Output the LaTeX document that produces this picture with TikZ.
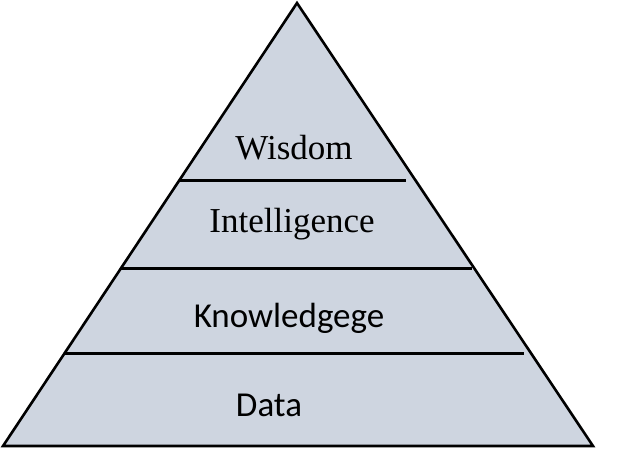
\documentclass[tikz,border=0pt]{standalone}
\usepackage{fontspec}
\setmainfont{Liberation Serif}
\newfontfamily\calibrifont{Carlito}
\usepackage{tikz}
\usetikzlibrary{positioning, calc}
\definecolor{pyrfill}{RGB}{206,213,224}

\begin{document}
\begin{tikzpicture}[x=0.5pt, y=-0.5pt]
  \useasboundingbox (0,0) rectangle (620,450);
  % Pyramid outline
  \coordinate (top) at (297,3);
  \coordinate (bl) at (3,446);
  \coordinate (br) at (593,446);
  \draw[line width=1.3pt, fill=pyrfill, line join=miter] (top) -- (bl) -- (br) -- cycle;

  % Layer dividers
  \coordinate (d1l) at (179,180);
  \coordinate (d1r) at (406,180);
  \coordinate (d2l) at (121,268);
  \coordinate (d2r) at (472,268);
  \coordinate (d3l) at (64,353);
  \coordinate (d3r) at (524,353);
  \draw[line width=1.5pt] (d1l) -- (d1r);
  \draw[line width=1.5pt] (d2l) -- (d2r);
  \draw[line width=1.5pt] (d3l) -- (d3r);

  % Labels
  \node[font=\fontsize{17.5}{20}\selectfont] (wisdom) at (294,148) {Wisdom};
  \node[font=\fontsize{17.5}{20}\selectfont] (intel) at (292,224) {Intelligence};
  \node[font=\calibrifont\fontsize{17.5}{20}\selectfont] (know) at (289,318) {Knowledgege};
  \node[font=\calibrifont\fontsize{17.5}{20}\selectfont] (data) at (269,405) {Data};
\end{tikzpicture}
\end{document}
